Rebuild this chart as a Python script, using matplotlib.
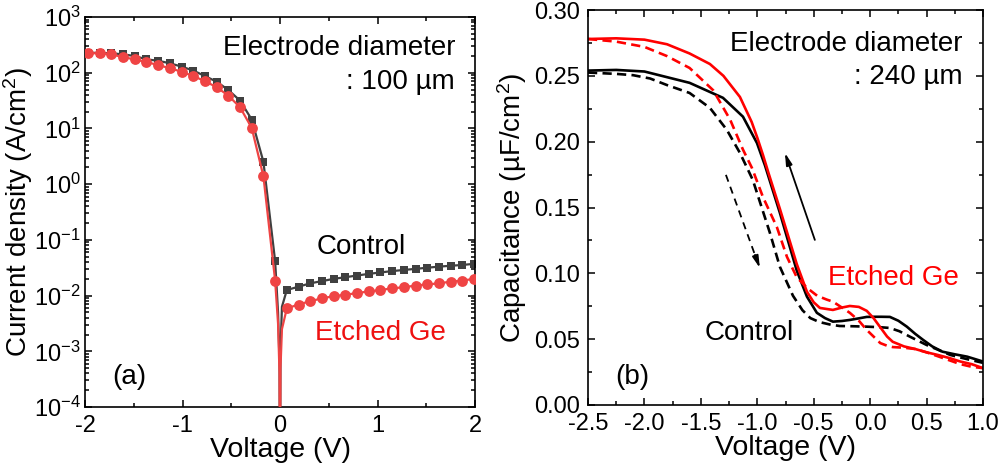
import matplotlib
matplotlib.use("Agg")
import matplotlib.pyplot as plt
import numpy as np
from matplotlib.ticker import (MultipleLocator, LogLocator, NullFormatter, FixedLocator,
                               FormatStrFormatter)

plt.rcParams['font.family'] = ['Liberation Sans', 'DejaVu Sans']
plt.rcParams['mathtext.fontset'] = 'custom'
plt.rcParams['mathtext.rm'] = 'Liberation Sans'
plt.rcParams['mathtext.it'] = 'Liberation Sans:italic'
plt.rcParams['mathtext.bf'] = 'Liberation Sans:bold'
plt.rcParams['axes.unicode_minus'] = False

# ---------------- Panel (a) data: J-V ----------------
v_markers = [-1.97 + 0.12 * k for k in range(34)]
log_control = [2.36, 2.355, 2.35, 2.33, 2.30, 2.24, 2.215, 2.17, 2.11, 2.04, 1.94, 1.84,
               1.69, 1.50, 1.16, 0.40, -1.38,
               -1.90, -1.84, -1.78, -1.74, -1.70, -1.67, -1.64, -1.61, -1.585, -1.56,
               -1.54, -1.52, -1.50, -1.48, -1.465, -1.45, -1.43]
log_etched = [2.35, 2.35, 2.33, 2.28, 2.24, 2.19, 2.14, 2.08, 2.02, 1.94, 1.85, 1.74,
              1.59, 1.38, 1.01, 0.14, -1.73,
              -2.23, -2.16, -2.10, -2.05, -2.01, -1.985, -1.955, -1.925, -1.90, -1.87,
              -1.85, -1.82, -1.80, -1.78, -1.75, -1.73, -1.70]
# line-only points near V = 0 (|J| dips toward zero)
v_zero = [-0.02, -0.005, 0.0, 0.005, 0.02]
log_control_zero = [-2.3, -3.2, -6.0, -3.0, -2.2]
log_etched_zero = [-2.5, -3.4, -6.0, -3.3, -2.6]

# ---------------- Panel (b) data: C-V ----------------
v_etched_solid = [-2.5, -2.25, -2.0, -1.8, -1.6, -1.42, -1.3, -1.154, -1.05, -1.0, -0.95,
                  -0.9, -0.8, -0.65, -0.56, -0.5, -0.445, -0.33, -0.25, -0.18, -0.1, -0.03,
                  0.03, 0.09, 0.15, 0.2, 0.3, 0.4, 0.5, 0.6, 0.7, 0.8, 0.9, 1.0]
c_etched_solid = [0.278, 0.2785, 0.2775, 0.2740, 0.2670, 0.2590, 0.2500, 0.2340, 0.2150,
                  0.2030, 0.1900, 0.1760, 0.149, 0.107, 0.086, 0.078, 0.0737, 0.0722,
                  0.074, 0.0752, 0.0745, 0.0715, 0.066, 0.059, 0.052, 0.048, 0.0445,
                  0.0425, 0.040, 0.038, 0.0357, 0.033, 0.031, 0.028]
v_etched_dash = [-2.5, -2.25, -2.0, -1.8, -1.6, -1.39, -1.24, -1.127, -1.047, -0.95, -0.826,
                 -0.737, -0.65, -0.56, -0.47, -0.383, -0.33, -0.25, -0.18, -0.1, -0.03, 0.03,
                 0.09, 0.15, 0.2, 0.3, 0.4, 0.5, 0.6, 0.7, 0.8, 0.9, 1.0]
c_etched_dash = [0.278, 0.276, 0.272, 0.265, 0.256, 0.239, 0.2166, 0.194, 0.180, 0.158,
                 0.135, 0.1125, 0.097, 0.089, 0.083, 0.080, 0.0785, 0.074, 0.070, 0.064,
                 0.057, 0.052, 0.047, 0.045, 0.044, 0.0435, 0.0425, 0.040, 0.037, 0.034,
                 0.031, 0.029, 0.028]
v_control_solid = [-2.5, -2.25, -2.0, -1.8, -1.6, -1.304, -1.127, -1.003, -0.932, -0.8,
                   -0.65, -0.56, -0.472, -0.4, -0.33, -0.25, -0.18, -0.1, -0.03, 0.05, 0.1,
                   0.175, 0.25, 0.325, 0.4, 0.47, 0.55, 0.64, 0.75, 0.86, 1.0]
c_control_solid = [0.254, 0.2545, 0.2533, 0.249, 0.2447, 0.2333, 0.219, 0.199, 0.182,
                   0.146, 0.102, 0.0823, 0.070, 0.066, 0.0633, 0.0638, 0.0646, 0.0658,
                   0.0669, 0.067, 0.067, 0.0669, 0.064, 0.0595, 0.054, 0.0494, 0.0445,
                   0.0405, 0.0385, 0.0367, 0.033]
v_control_dash = [-2.5, -2.25, -2.1, -1.95, -1.8, -1.6, -1.42, -1.27, -1.154, -1.09, -1.04,
                  -0.888, -0.8, -0.684, -0.6, -0.53, -0.45, -0.35, -0.27, -0.15, -0.03, 0.1,
                  0.175, 0.26, 0.35, 0.42, 0.5, 0.6, 0.71, 0.85, 1.0]
c_control_dash = [0.2525, 0.2515, 0.2505, 0.248, 0.243, 0.237, 0.2257, 0.209, 0.1915, 0.180,
                  0.171, 0.1307, 0.105, 0.083, 0.072, 0.066, 0.063, 0.061, 0.060, 0.0598,
                  0.0595, 0.059, 0.0585, 0.056, 0.052, 0.049, 0.0456, 0.042, 0.038, 0.035,
                  0.032]

gray = '#404040'
red_a = '#ef4444'
red_b = '#ff0000'

fig = plt.figure(figsize=(10, 4.73), dpi=100)
axa = fig.add_axes([0.085, 0.1395, 0.39, 0.8245])
axb = fig.add_axes([0.588, 0.1438, 0.395, 0.835])

TICK_FS = 17
LAB_FS = 20.5
TXT_FS = 20

for ax in (axa, axb):
    for s in ax.spines.values():
        s.set_linewidth(1.2)
    ax.tick_params(which='both', direction='in', top=True, right=True, width=1.1,
                   labelsize=TICK_FS)
    ax.tick_params(which='major', length=5)
    ax.tick_params(which='minor', length=3)

# ----- panel (a) -----
def merge(v, lg, vz, lz):
    pts = sorted(list(zip(v, lg)) + list(zip(vz, lz)))
    return [p[0] for p in pts], [10 ** p[1] for p in pts]

vl, jl = merge(v_markers, log_control, v_zero, log_control_zero)
axa.plot(vl, jl, color=gray, lw=1.6, zorder=2)
vl2, jl2 = merge(v_markers, log_etched, v_zero, log_etched_zero)
axa.plot(vl2, jl2, color=red_a, lw=1.6, zorder=3)
axa.plot(v_markers, [10 ** x for x in log_control], 's', color=gray, ms=6.3, mew=0, zorder=2)
axa.plot(v_markers, [10 ** x for x in log_etched], 'o', color=red_a, ms=7.8, mew=0, zorder=3)

axa.set_yscale('log')
axa.set_xlim(-2, 2)
axa.set_ylim(1e-4, 1e3)
axa.xaxis.set_major_locator(FixedLocator([-2, -1, 0, 1, 2]))
axa.xaxis.set_minor_locator(MultipleLocator(0.5))
axa.yaxis.set_major_locator(LogLocator(base=10, numticks=20))
axa.yaxis.set_minor_locator(LogLocator(base=10, subs=np.arange(2, 10), numticks=20))
axa.yaxis.set_minor_formatter(NullFormatter())
axa.tick_params(axis='y', pad=3)
axa.tick_params(axis='x', pad=6)
axa.set_xlabel('Voltage (V)', fontsize=LAB_FS, labelpad=0)
axa.set_ylabel('Current density (A/cm$^{2}$)', fontsize=20)
axa.yaxis.set_label_coords(-0.128, 0.5)

axa.text(0.949, 0.92, 'Electrode diameter', transform=axa.transAxes, ha='right',
         va='center', fontsize=TXT_FS)
axa.text(0.949, 0.833, ': 100 µm', transform=axa.transAxes, ha='right', va='center',
         fontsize=TXT_FS)
axa.text(0.595, 0.41, 'Control', transform=axa.transAxes, ha='left', va='center',
         fontsize=TXT_FS, color='black')
axa.text(0.59, 0.19, 'Etched Ge', transform=axa.transAxes, ha='left', va='center',
         fontsize=TXT_FS, color='#ee1111')
axa.text(0.069, 0.077, '(a)', transform=axa.transAxes, ha='left', va='center',
         fontsize=TXT_FS)

# ----- panel (b) -----
axb.plot(v_control_solid, c_control_solid, color='black', lw=1.9)
axb.plot(v_control_dash, c_control_dash, color='black', lw=1.9, ls=(0, (3.5, 2.0)))
axb.plot(v_etched_solid, c_etched_solid, color=red_b, lw=1.9)
axb.plot(v_etched_dash, c_etched_dash, color=red_b, lw=1.9, ls=(0, (3.5, 2.0)))

# sweep-direction arrows
axb.annotate('', xy=(-0.755, 0.1915), xytext=(-0.49, 0.1254),
             arrowprops=dict(arrowstyle='-|>,head_length=0.7,head_width=0.18',
                             color='black', lw=1.3, shrinkA=0, shrinkB=0))
axb.plot([-1.278, -1.01], [0.1748, 0.1115], color='black', lw=1.3, ls=(0, (4, 3)))
axb.annotate('', xy=(-0.977, 0.104), xytext=(-1.02, 0.114),
             arrowprops=dict(arrowstyle='-|>,head_length=0.7,head_width=0.18',
                             color='black', lw=1.3, shrinkA=0, shrinkB=0))

axb.set_xlim(-2.5, 1.0)
axb.set_ylim(0.0, 0.30)
axb.xaxis.set_major_locator(MultipleLocator(0.5))
axb.xaxis.set_minor_locator(MultipleLocator(0.25))
axb.yaxis.set_major_locator(MultipleLocator(0.05))
axb.yaxis.set_minor_locator(MultipleLocator(0.025))
axb.xaxis.set_major_formatter(FormatStrFormatter('%.1f'))
axb.yaxis.set_major_formatter(FormatStrFormatter('%.2f'))
axb.tick_params(axis='y', pad=6)
axb.tick_params(axis='x', pad=6)
axb.set_xlabel('Voltage (V)', fontsize=LAB_FS, labelpad=0)
axb.set_ylabel('Capacitance (µF/cm$^{2}$)', fontsize=20)
axb.yaxis.set_label_coords(-0.150, 0.5)

axb.text(0.949, 0.914, 'Electrode diameter', transform=axb.transAxes, ha='right',
         va='center', fontsize=TXT_FS)
axb.text(0.949, 0.831, ': 240 µm', transform=axb.transAxes, ha='right', va='center',
         fontsize=TXT_FS)
axb.text(0.608, 0.321, 'Etched Ge', transform=axb.transAxes, ha='left', va='center',
         fontsize=TXT_FS, color=red_b)
axb.text(0.296, 0.182, 'Control', transform=axb.transAxes, ha='left', va='center',
         fontsize=TXT_FS, color='black')
axb.text(0.068, 0.071, '(b)', transform=axb.transAxes, ha='left', va='center',
         fontsize=TXT_FS)

fig.savefig('out.png', dpi=100)
